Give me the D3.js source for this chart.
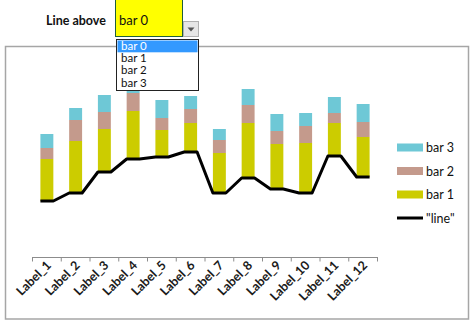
<!DOCTYPE html>
<html>
<head>
<meta charset="utf-8">
<script src="https://cdn.jsdelivr.net/npm/d3@7/dist/d3.min.js"></script>
<style>
  html, body { margin: 0; padding: 0; background: #fff; }
  svg { display: block; font-family: Lato, "Open Sans", sans-serif; }
</style>
</head>
<body>
<svg id="chart" width="474" height="324"></svg>
<script>
const categories = ["Label_1","Label_2","Label_3","Label_4","Label_5","Label_6","Label_7","Label_8","Label_9","Label_10","Label_11","Label_12"];
const bar0 = [56, 64, 85, 98, 100, 105, 64, 79, 68, 64, 101, 80];   // hidden base = "line"
const bar1 = [42, 52, 43, 48, 27, 29, 40, 55, 45, 50, 33, 40];
const bar2 = [11, 21, 17, 18, 12, 14, 13, 18, 13, 17, 10, 15];
const bar3 = [14, 12, 17, 14, 18, 13, 11, 16, 17, 13, 16, 18];
const dropdownItems = ["bar 0", "bar 1", "bar 2", "bar 3"];
const selected = "bar 0";

const colors = { bar1: "#cccc00", bar2: "#c49a8c", bar3: "#6ec8d6" };

const svg = d3.select("#chart");

// chart border
svg.append("rect").attr("x", 5.5).attr("y", 46.5).attr("width", 463).attr("height", 272.5)
  .attr("fill", "#fff").attr("stroke", "#a6a6a6").attr("stroke-width", 1.5);

const x = d3.scaleBand().domain(categories).range([32.5, 377.5]).paddingInner(0.55).paddingOuter(0.275);
const y = d3.scaleLinear().domain([0, 200]).range([257, 57]);

const data = categories.map((c, i) => ({ c, b0: bar0[i], b1: bar1[i], b2: bar2[i], b3: bar3[i] }));
const stack = d3.stack().keys(["b0", "b1", "b2", "b3"])(data);
const fillFor = { b0: "none", b1: colors.bar1, b2: colors.bar2, b3: colors.bar3 };

const g = svg.append("g");
stack.forEach(layer => {
  if (layer.key === "b0") return;
  g.selectAll(null).data(layer).join("rect")
    .attr("x", d => x(d.data.c))
    .attr("width", x.bandwidth())
    .attr("y", d => y(d[1]))
    .attr("height", d => y(d[0]) - y(d[1]))
    .attr("fill", fillFor[layer.key]);
});

// axis
const axisY = y(0);
const step = x.step();
const boundaries = categories.map(c => x(c) - x.paddingInner() * step / 2).concat([x(categories[categories.length - 1]) + x.bandwidth() + x.paddingInner() * step / 2]);
svg.append("line").attr("x1", boundaries[0]).attr("x2", boundaries[boundaries.length - 1])
  .attr("y1", axisY + 0.5).attr("y2", axisY + 0.5).attr("stroke", "#8c8c8c").attr("stroke-width", 1);
svg.selectAll(null).data(boundaries).join("line")
  .attr("x1", d => d).attr("x2", d => d).attr("y1", axisY).attr("y2", axisY + 4.5)
  .attr("stroke", "#8c8c8c").attr("stroke-width", 1);

const axis = d3.axisBottom(x).tickSize(0).tickPadding(0);
const ax = svg.append("g").attr("transform", `translate(0,${axisY})`).call(axis);
ax.select(".domain").remove();
ax.selectAll("text")
  .attr("font-family", "Lato, 'Open Sans', sans-serif")
  .attr("font-size", 12.5).attr("font-weight", "bold").attr("fill", "#1a1a1a")
  .attr("text-anchor", "end")
  .attr("dy", null).attr("y", 0)
  .attr("transform", "translate(5,9) rotate(-45)");

// line (flat across each bar, diagonal between)
const linePts = [];
data.forEach(d => {
  linePts.push([x(d.c), y(d.b0)]);
  linePts.push([x(d.c) + x.bandwidth(), y(d.b0)]);
});
svg.append("path").attr("d", d3.line()(linePts))
  .attr("fill", "none").attr("stroke", "#000").attr("stroke-width", 3).attr("stroke-linejoin", "round");

// legend
const legend = [
  { name: "bar 3", type: "rect", color: colors.bar3 },
  { name: "bar 2", type: "rect", color: colors.bar2 },
  { name: "bar 1", type: "rect", color: colors.bar1 },
  { name: "\"line\"", type: "line", color: "#000" }
];
const lg = svg.append("g");
legend.forEach((l, i) => {
  const cy = 147.5 + i * 23.5;
  if (l.type === "rect") {
    lg.append("rect").attr("x", 397).attr("y", cy - 4).attr("width", 26).attr("height", 8).attr("fill", l.color);
  } else {
    lg.append("line").attr("x1", 397).attr("x2", 423).attr("y1", cy).attr("y2", cy).attr("stroke", l.color).attr("stroke-width", 3);
  }
  lg.append("text").attr("x", 426).attr("y", cy + 4.5).attr("font-size", 12.5).attr("fill", "#111").text(l.name);
});

// dropdown control
svg.append("text").attr("x", 46).attr("y", 25).attr("font-size", 12.5).attr("font-weight", "bold").attr("fill", "#111").text("Line above");
svg.append("rect").attr("x", 115.5).attr("y", -1).attr("width", 67).attr("height", 37.5)
  .attr("fill", "#ffff00").attr("stroke", "#1f5f3a").attr("stroke-width", 1);
svg.append("text").attr("x", 119).attr("y", 25).attr("font-size", 13).attr("fill", "#111").text(selected);
svg.append("rect").attr("x", 183.5).attr("y", 21.5).attr("width", 15).attr("height", 15)
  .attr("fill", "#e6e6e6").attr("stroke", "#b0b0b0").attr("stroke-width", 1);
svg.append("path").attr("d", "M187.5,27.5 L194.5,27.5 L191,31.5 Z").attr("fill", "#555");

const list = svg.append("g");
list.append("rect").attr("x", 116.5).attr("y", 39.5).attr("width", 82).attr("height", 51)
  .attr("fill", "#fff").attr("stroke", "#222").attr("stroke-width", 1);
dropdownItems.forEach((t, i) => {
  const top = 40.5 + i * 12.2;
  if (t === selected) {
    list.append("rect").attr("x", 117.5).attr("y", top).attr("width", 80).attr("height", 11.8).attr("fill", "#3399ff");
  }
  list.append("text").attr("x", 121).attr("y", top + 9.5).attr("font-size", 11.5)
    .attr("fill", t === selected ? "#fff" : "#111").text(t);
});
</script>
</body>
</html>
